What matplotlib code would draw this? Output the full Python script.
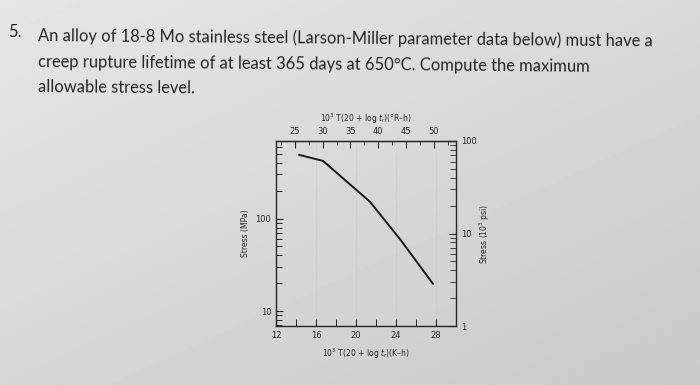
import numpy as np
import matplotlib
matplotlib.use("Agg")
import matplotlib.pyplot as plt
from matplotlib.ticker import FixedLocator, NullFormatter, LogLocator

# Data
lm_param_k = [14.3, 16.7, 21.4, 24.5, 27.7]      # 10^3 T(20 + log t_r) (K-h)
stress_mpa = [489, 420, 152, 58, 19.7]             # Stress (MPa)
bottom_ticks = [12, 16, 20, 24, 28]
top_ticks = [25, 30, 35, 40, 45, 50]
left_ticks = [10, 100]
right_ticks = [1, 10, 100]

question_lines = [
    "An alloy of 18-8 Mo stainless steel (Larson-Miller parameter data below) must have a",
    "creep rupture lifetime of at least 365 days at 650°C. Compute the maximum",
    "allowable stress level.",
]

BG = "#d9d9d9"
INK = "#262626"

fig = plt.figure(figsize=(7.0, 3.85), dpi=100, facecolor=BG)

# subtle photo-like gradient background
bg = fig.add_axes([0, 0, 1, 1], zorder=-10)
gx = np.linspace(0, 1, 200)
gy = np.linspace(0, 1, 120)
X, Y = np.meshgrid(gx, gy)
G = 0.90 - 0.05 * X - 0.06 * Y
bg.imshow(G, cmap="gray", vmin=0, vmax=1, extent=[0, 1, 0, 1], aspect="auto", origin="upper")
bg.axis("off")

# Question text
fig.text(8 / 700, 1 - 32 / 385, "5.", fontsize=12, family="Lato", color=INK, va="center")
ys = [36, 62, 87]
for line, y in zip(question_lines, ys):
    fig.text(38 / 700, 1 - y / 385, line, fontsize=11.9, family="Lato", color=INK,
             va="center", rotation=-0.5, rotation_mode="anchor")

# Chart
ax = fig.add_axes([276 / 700, 1 - 326 / 385, 180 / 700, 185 / 385])
ax.set_facecolor("none")
ax.plot(lm_param_k, stress_mpa, color="#1a1a1a", lw=1.4, solid_capstyle="round")
ax.set_xlim(12, 30)
ax.set_yscale("log")
ax.set_ylim(6.895, 689.5)

ax.xaxis.set_major_locator(FixedLocator(bottom_ticks))
ax.xaxis.set_minor_locator(FixedLocator([14, 18, 22, 26]))
ax.yaxis.set_major_locator(FixedLocator(left_ticks))
ax.yaxis.set_minor_locator(LogLocator(base=10, subs=np.arange(2, 10), numticks=20))
ax.yaxis.set_minor_formatter(NullFormatter())
ax.set_yticklabels([str(t) for t in left_ticks])
ax.tick_params(axis="both", which="both", direction="in", colors=INK, labelsize=6)
ax.tick_params(axis="both", which="major", length=5, width=0.8)
ax.tick_params(axis="both", which="minor", length=4, width=0.7)
ax.tick_params(axis="x", which="minor", length=5)
ax.tick_params(right=False, top=False)
for s in ax.spines.values():
    s.set_color(INK)
    s.set_linewidth(1.0)

ax.grid(True, axis="x", which="major", color="#c4c4c4", lw=0.6, ls=":")
ax.set_xlabel("10$^3$ T(20 + log $t_r$)(K–h)", fontsize=5.5, color=INK, labelpad=5)
ax.set_ylabel("Stress (MPa)", fontsize=5.5, color=INK, labelpad=4)

# Top axis in degrees Rankine
top = ax.secondary_xaxis("top", functions=(lambda k: 1.8 * np.asarray(k), lambda r: np.asarray(r) / 1.8))
top.xaxis.set_major_locator(FixedLocator(top_ticks))
top.xaxis.set_minor_locator(FixedLocator(np.arange(22.5, 54, 2.5)))
top.xaxis.set_minor_formatter(NullFormatter())
top.tick_params(axis="x", which="both", direction="in", colors=INK, labelsize=6)
top.tick_params(axis="x", which="major", length=5)
top.tick_params(axis="x", which="minor", length=3)
top.set_xlabel("10$^3$ T(20 + log $t_r$)(°R–h)", fontsize=5.5, color=INK, labelpad=4)

# Right axis in ksi
rax = ax.twinx()
rax.set_yscale("log")
rax.set_ylim(1, 100)
rax.yaxis.set_major_locator(FixedLocator(right_ticks))
rax.yaxis.set_minor_locator(LogLocator(base=10, subs=np.arange(2, 10), numticks=20))
rax.yaxis.set_minor_formatter(NullFormatter())
rax.set_yticklabels([str(t) for t in right_ticks])
rax.tick_params(axis="y", which="both", direction="in", colors=INK, labelsize=6)
rax.tick_params(axis="y", which="major", length=5)
rax.tick_params(axis="y", which="minor", length=4)
rax.set_ylabel("Stress (10$^3$ psi)", fontsize=5.5, color=INK, labelpad=1)
for s in rax.spines.values():
    s.set_visible(False)

fig.savefig("out.png", dpi=100, facecolor=BG)
